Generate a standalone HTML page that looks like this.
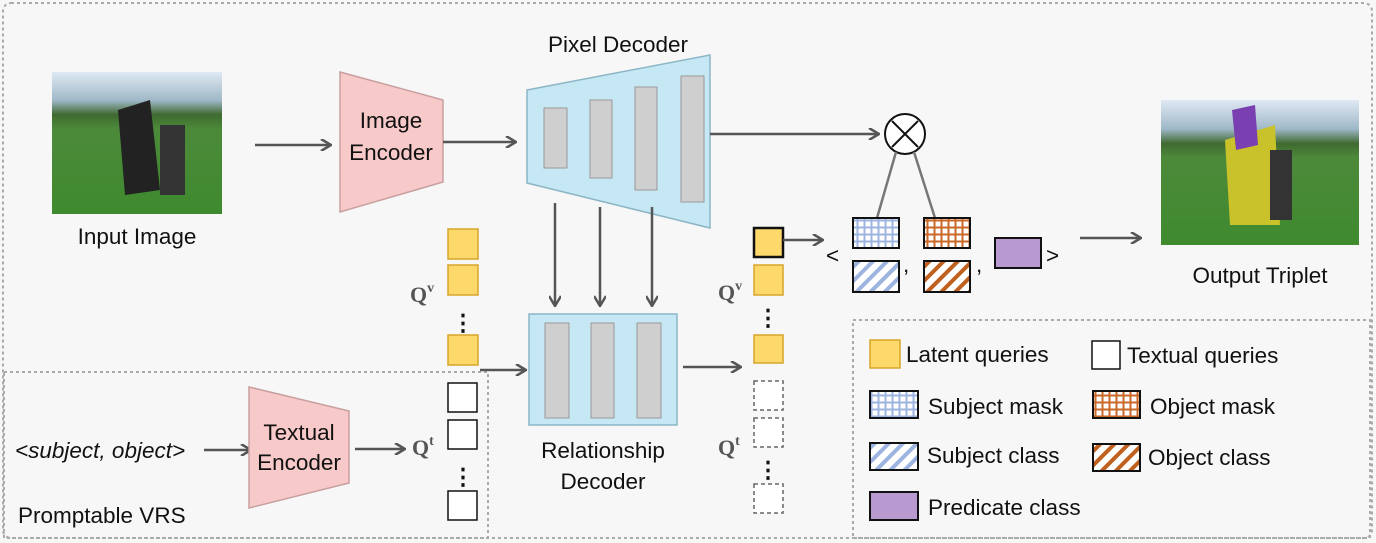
<!DOCTYPE html>
<html><head><meta charset="utf-8"><style>
body{margin:0;background:#fff}
svg{display:block}
text{font-family:"Liberation Sans",sans-serif;font-size:22.5px;fill:#111}
.q{font-family:"Liberation Serif",serif;font-weight:bold;font-size:22px;fill:#555}
</style></head><body>
<svg width="1376" height="543" viewBox="0 0 1376 543" xmlns="http://www.w3.org/2000/svg">
<defs>
<marker id="a" markerWidth="12" markerHeight="12" refX="10" refY="6" orient="auto" markerUnits="userSpaceOnUse"><path d="M1,0 L11,6 L1,12" fill="none" stroke="#555" stroke-width="2.5"/></marker>
<pattern id="gb" width="7" height="7" patternUnits="userSpaceOnUse"><rect width="7" height="7" fill="#fff"/><path d="M3.5,0V7M0,3.5H7" stroke="#9db4e0" stroke-width="2"/></pattern>
<pattern id="go" width="7" height="7" patternUnits="userSpaceOnUse"><rect width="7" height="7" fill="#fff"/><path d="M3.5,0V7M0,3.5H7" stroke="#c8692a" stroke-width="2"/></pattern>
<pattern id="db" width="10" height="10" patternUnits="userSpaceOnUse" patternTransform="rotate(45)"><rect width="10" height="10" fill="#fff"/><rect width="4" height="10" fill="#9db4e0"/></pattern>
<pattern id="do" width="10" height="10" patternUnits="userSpaceOnUse" patternTransform="rotate(45)"><rect width="10" height="10" fill="#fff"/><rect width="4" height="10" fill="#c0601e"/></pattern>
<linearGradient id="ph" x1="0" y1="0" x2="0" y2="1"><stop offset="0" stop-color="#dfe9f3"/><stop offset="0.2" stop-color="#9fb8c8"/><stop offset="0.3" stop-color="#3f6a30"/><stop offset="0.4" stop-color="#4c8a3a"/><stop offset="1" stop-color="#3f8a2e"/></linearGradient>
</defs>
<rect x="0" y="0" width="1376" height="543" fill="#f7f7f7"/>
<rect x="3" y="3" width="1369" height="535" rx="8" fill="none" stroke="#aaa" stroke-width="2" stroke-dasharray="3,3"/>
<rect x="4" y="372" width="484" height="166" fill="none" stroke="#aaa" stroke-width="2" stroke-dasharray="3,3"/>
<rect x="853" y="320" width="517" height="218" fill="none" stroke="#aaa" stroke-width="2" stroke-dasharray="3,3"/>

<rect x="52" y="72" width="170" height="142" fill="url(#ph)"/>
<path d="M118,110 L150,100 L160,190 L125,195 Z" fill="#222"/>
<rect x="160" y="125" width="25" height="70" fill="#333"/>
<text x="137" y="244" text-anchor="middle">Input Image</text>
<line x1="255" y1="145" x2="330" y2="145" stroke="#555" stroke-width="2.5" marker-end="url(#a)"/>
<polygon points="340,72 443,100 443,182 340,212" fill="#f8c9c9" stroke="#c9a0a0" stroke-width="1.5"/>
<text x="391" y="128" text-anchor="middle">Image</text>
<text x="391" y="160" text-anchor="middle">Encoder</text>
<line x1="443" y1="142" x2="515" y2="142" stroke="#555" stroke-width="2.5" marker-end="url(#a)"/>

<polygon points="527,90 710,55 710,228 527,183" fill="#c6e8f4" stroke="#8cb6c6" stroke-width="1.5"/>
<g fill="#cfcfcf" stroke="#999"><rect x="544" y="108" width="23" height="60"/><rect x="590" y="100" width="22" height="78"/><rect x="635" y="87" width="22" height="103"/><rect x="681" y="76" width="23" height="126"/></g>
<text x="618" y="52" text-anchor="middle">Pixel Decoder</text>
<line x1="710" y1="134" x2="878" y2="134" stroke="#555" stroke-width="2.5" marker-end="url(#a)"/>
<circle cx="905" cy="134" r="20" fill="#fff" stroke="#111" stroke-width="2"/>
<path d="M892,121L918,147M918,121L892,147" stroke="#111" stroke-width="2"/>
<path d="M896,152L877,218M914,152L935,218" stroke="#777" stroke-width="2.5"/>

<g stroke="#555" stroke-width="2.5" marker-end="url(#a)"><line x1="555" y1="203" x2="555" y2="305"/><line x1="600" y1="207" x2="600" y2="305"/><line x1="652" y1="207" x2="652" y2="305"/></g>

<rect x="529" y="314" width="148" height="111" fill="#c6e8f4" stroke="#8cb6c6" stroke-width="1.5"/>
<g fill="#cfcfcf" stroke="#999"><rect x="545" y="323" width="24" height="95"/><rect x="591" y="323" width="23" height="95"/><rect x="637" y="323" width="24" height="95"/></g>
<text x="603" y="458" text-anchor="middle">Relationship</text>
<text x="603" y="489" text-anchor="middle">Decoder</text>

<g fill="#fdd96b" stroke="#d7a52a" stroke-width="1.5"><rect x="448" y="229" width="30" height="30"/><rect x="448" y="265" width="30" height="30"/><rect x="448" y="335" width="30" height="30"/></g>
<text x="463" y="330" text-anchor="middle" font-weight="bold">⋮</text>
<text x="410" y="302" class="q">Q<tspan font-size="14" dy="-10">v</tspan></text>
<g fill="#fff" stroke="#111" stroke-width="1.5"><rect x="448" y="383" width="29" height="29"/><rect x="448" y="420" width="29" height="29"/><rect x="448" y="491" width="29" height="29"/></g>
<text x="463" y="484" text-anchor="middle" font-weight="bold">⋮</text>
<text x="412" y="455" class="q">Q<tspan font-size="14" dy="-10">t</tspan></text>
<line x1="480" y1="370" x2="525" y2="370" stroke="#555" stroke-width="2.5" marker-end="url(#a)"/>
<line x1="683" y1="367" x2="740" y2="367" stroke="#555" stroke-width="2.5" marker-end="url(#a)"/>

<rect x="754" y="228" width="29" height="29" fill="#fdd96b" stroke="#111" stroke-width="2.5"/>
<g fill="#fdd96b" stroke="#d7a52a" stroke-width="1.5"><rect x="754" y="265" width="29" height="30"/><rect x="754" y="335" width="29" height="28"/></g>
<text x="768" y="325" text-anchor="middle" font-weight="bold">⋮</text>
<text x="718" y="300" class="q">Q<tspan font-size="14" dy="-10">v</tspan></text>
<g fill="#fff" stroke="#666" stroke-width="1.5" stroke-dasharray="4,3"><rect x="754" y="381" width="29" height="29"/><rect x="754" y="418" width="29" height="29"/><rect x="754" y="484" width="29" height="29"/></g>
<text x="768" y="477" text-anchor="middle" font-weight="bold">⋮</text>
<text x="718" y="455" class="q">Q<tspan font-size="14" dy="-10">t</tspan></text>
<line x1="783" y1="240" x2="822" y2="240" stroke="#555" stroke-width="2.5" marker-end="url(#a)"/>

<text x="826" y="263" font-size="26">&lt;</text>
<rect x="853" y="218" width="46" height="30" fill="url(#gb)" stroke="#111" stroke-width="2"/>
<rect x="853" y="261" width="46" height="31" fill="url(#db)" stroke="#111" stroke-width="2"/>
<text x="903" y="272" font-size="26">,</text>
<rect x="924" y="218" width="46" height="30" fill="url(#go)" stroke="#111" stroke-width="2"/>
<rect x="924" y="261" width="46" height="31" fill="url(#do)" stroke="#111" stroke-width="2"/>
<text x="976" y="272" font-size="26">,</text>
<rect x="995" y="238" width="46" height="30" fill="#b89ad0" stroke="#111" stroke-width="2"/>
<text x="1046" y="263" font-size="26">&gt;</text>
<line x1="1080" y1="238" x2="1140" y2="238" stroke="#555" stroke-width="2.5" marker-end="url(#a)"/>

<rect x="1161" y="100" width="198" height="145" fill="url(#ph)"/>
<path d="M1225,140 L1275,125 L1280,225 L1230,225 Z" fill="#c9c22a"/>
<path d="M1232,110 L1255,105 L1258,145 L1236,150 Z" fill="#7a3fb0"/>
<rect x="1270" y="150" width="22" height="70" fill="#333"/>
<text x="1260" y="283" text-anchor="middle">Output Triplet</text>

<text x="15" y="458" font-style="italic">&lt;subject, object&gt;</text>
<line x1="204" y1="450" x2="250" y2="450" stroke="#555" stroke-width="2.5" marker-end="url(#a)"/>
<polygon points="249,387 349,411 349,483 249,508" fill="#f8c9c9" stroke="#c9a0a0" stroke-width="1.5"/>
<text x="299" y="440" text-anchor="middle">Textual</text>
<text x="299" y="470" text-anchor="middle">Encoder</text>
<line x1="355" y1="449" x2="404" y2="449" stroke="#555" stroke-width="2.5" marker-end="url(#a)"/>
<text x="18" y="523">Promptable VRS</text>

<rect x="870" y="340" width="30" height="28" fill="#fdd96b" stroke="#d7a52a" stroke-width="1.5"/>
<text x="906" y="362">Latent queries</text>
<rect x="1092" y="341" width="28" height="28" fill="#fff" stroke="#111" stroke-width="1.5"/>
<text x="1127" y="363">Textual queries</text>
<rect x="870" y="391" width="48" height="27" fill="url(#gb)" stroke="#111" stroke-width="2"/>
<text x="928" y="414">Subject mask</text>
<rect x="1093" y="391" width="47" height="27" fill="url(#go)" stroke="#111" stroke-width="2"/>
<text x="1150" y="414">Object mask</text>
<rect x="870" y="443" width="48" height="27" fill="url(#db)" stroke="#111" stroke-width="2"/>
<text x="927" y="463">Subject class</text>
<rect x="1093" y="444" width="47" height="27" fill="url(#do)" stroke="#111" stroke-width="2"/>
<text x="1148" y="465">Object class</text>
<rect x="870" y="492" width="48" height="28" fill="#b89ad0" stroke="#111" stroke-width="2"/>
<text x="928" y="515">Predicate class</text>
</svg>
</body></html>
